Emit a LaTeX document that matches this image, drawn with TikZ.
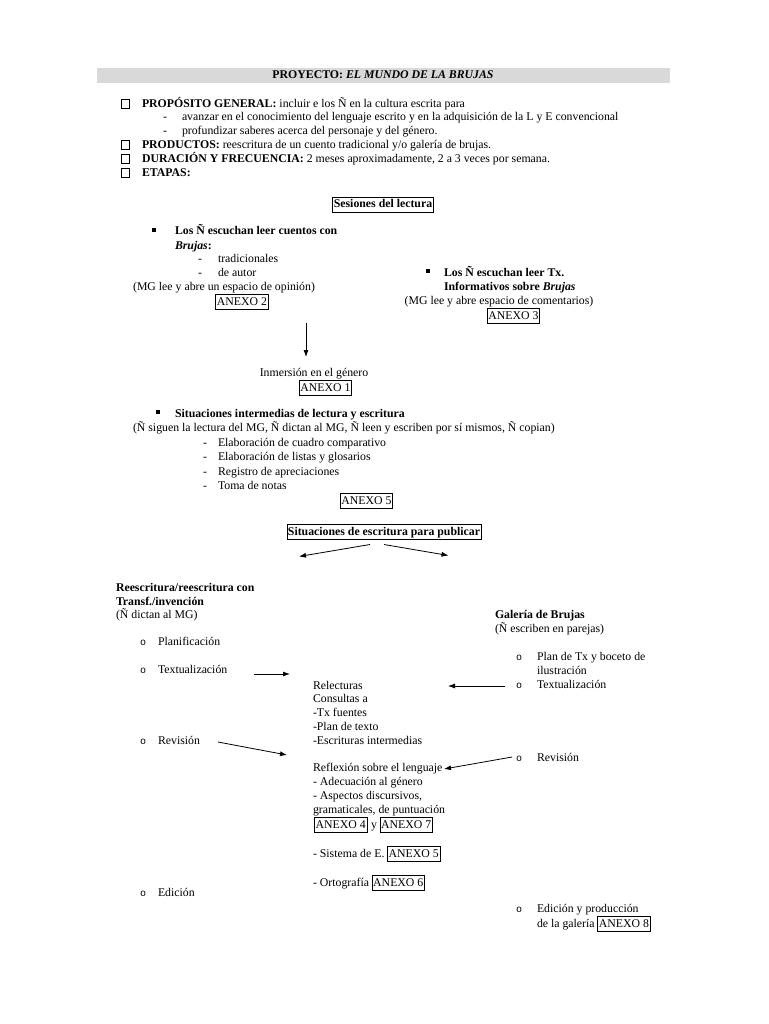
\documentclass[tikz,border=0pt]{standalone}
\usepackage{fontspec}
\setmainfont{Liberation Serif}
\newfontfamily\monofnt{Liberation Mono}
\usetikzlibrary{arrows.meta}
\definecolor{barGray}{RGB}{217,217,217}
\begin{document}
\begin{tikzpicture}[x=1pt,y=-1pt,
  every node/.style={inner sep=0pt,outer sep=0pt,font=\fontsize{11.8}{14}\selectfont},
  tx/.style={anchor=base west},
  tc/.style={anchor=base},
  anexo/.style={draw,line width=0.9pt,inner xsep=1.2pt,text height=8.4pt,text depth=2.6pt,inner ysep=2pt},
  hbox/.style={draw,line width=0.9pt,inner xsep=1pt,text height=8.4pt,text depth=2.6pt,inner ysep=2pt},
  cbox/.style={draw,line width=0.8pt,minimum width=8.5pt,minimum height=8.5pt},
  sqb/.style={fill=black,minimum width=3.6pt,minimum height=3.6pt},
  circ/.style={anchor=base,font=\monofnt\fontsize{10}{10}\selectfont},
  arr/.style={line width=0.8pt,-{Latex[length=7pt,width=5pt]}},
]
\useasboundingbox (0,0) rectangle (768,1024);
\fill[white] (0,0) rectangle (768,1024);
% title bar
\fill[barGray] (97,68) rectangle (670,83);
\node[tc] (title) at (383,79) {\textbf{PROYECTO: \textit{EL MUNDO DE LA BRUJAS}}};
% general items
\node[cbox] (cb1) at (125.5,104) {};
\node[tx] (prop) at (142,108) {\textbf{PROPÓSITO GENERAL:} incluir e los Ñ en la cultura escrita para};
\node[tx] (d1) at (163,121) {-};
\node[tx] (av) at (182,121) {avanzar en el conocimiento del lenguaje escrito y en la adquisición de la L y E convencional};
\node[tx] (d2) at (163,135) {-};
\node[tx] (pro) at (182,135) {profundizar saberes acerca del personaje y del género.};
\node[cbox] (cb2) at (125.5,145) {};
\node[tx] (prod) at (142,149) {\textbf{PRODUCTOS:} reescritura de un cuento tradicional y/o galería de brujas.};
\node[cbox] (cb3) at (125.5,159) {};
\node[tx] (dur) at (142,163) {\textbf{DURACIÓN Y FRECUENCIA:} 2 meses aproximadamente, 2 a 3 veces por semana.};
\node[cbox] (cb4) at (125.5,173) {};
\node[tx] (eta) at (142,177) {\textbf{ETAPAS:}};
% sesiones
\node[tc,hbox] (ses) at (383,208) {\textbf{Sesiones del lectura}};
\node[sqb] (b1) at (154,230) {};
\node[tx] (lc1) at (175,235) {\textbf{Los Ñ escuchan leer cuentos con}};
\node[tx] (lc2) at (175,249) {\textbf{\textit{Brujas}:}};
\node[tx] (d3) at (198,262) {-};
\node[tx] (tra) at (218,262) {tradicionales};
\node[tx] (d4) at (198,276) {-};
\node[tx] (aut) at (218,276) {de autor};
\node[tc] (mg1) at (224,290) {(MG lee y abre un espacio de opinión)};
\node[anexo,tc] (an2) at (242,305) {ANEXO 2};
\node[sqb] (b2) at (428,271) {};
\node[tx] (tx1) at (444,276) {\textbf{Los Ñ escuchan leer Tx.}};
\node[tx] (tx2) at (444,290) {\textbf{Informativos sobre \textit{Brujas}}};
\node[tc] (mg2) at (499,304) {(MG lee y abre espacio de comentarios)};
\node[anexo,tc] (an3) at (513.5,319) {ANEXO 3};
% inmersion
\coordinate (dA) at (306,323);
\coordinate (dB) at (306,357);
\draw[arr] (dA) -- (dB);
\node[tc] (inm) at (314,376) {Inmersión en el género};
\node[anexo,tc] (an1) at (325.5,391) {ANEXO 1};
% situaciones intermedias
\node[sqb] (b3) at (158,412) {};
\node[tx] (sit) at (175,417) {\textbf{Situaciones intermedias de lectura y escritura}};
\node[tx] (sig) at (133,431) {(Ñ siguen la lectura del MG, Ñ dictan al MG, Ñ leen y escriben por sí mismos, Ñ copian)};
\node[tx] (d5) at (203,446) {-};
\node[tx] (e1) at (218,446) {Elaboración de cuadro comparativo};
\node[tx] (d6) at (203,460) {-};
\node[tx] (e2) at (218,460) {Elaboración de listas y glosarios};
\node[tx] (d7) at (203,475) {-};
\node[tx] (e3) at (218,475) {Registro de apreciaciones};
\node[tx] (d8) at (203,489) {-};
\node[tx] (e4) at (218,489) {Toma de notas};
\node[anexo,tc] (an5) at (366.5,504) {ANEXO 5};
% publicar
\node[tc,hbox] (pub) at (384,535) {\textbf{Situaciones de escritura para publicar}};
\coordinate (sL0) at (370,544.5);
\coordinate (sL1) at (299,556.5);
\coordinate (sR0) at (384,544.5);
\coordinate (sR1) at (448.5,555.5);
\draw[arr] (sL0) -- (sL1);
\draw[arr] (sR0) -- (sR1);
% left column
\node[tx] (re1) at (116,591) {\textbf{Reescritura/reescritura con}};
\node[tx] (re2) at (116,605) {\textbf{Transf./invención}};
\node[tx] (re3) at (116,618) {(Ñ dictan al MG)};
\node[circ] (o1) at (143,645) {o};
\node[tx] (pl) at (158,645) {Planificación};
\node[circ] (o2) at (143,673) {o};
\node[tx] (tl) at (158,673) {Textualización};
\node[circ] (o3) at (143,744) {o};
\node[tx] (rl) at (158,744) {Revisión};
\node[circ] (o4) at (143,896) {o};
\node[tx] (el) at (158,896) {Edición};
% right column
\node[tx] (ga1) at (495,618) {\textbf{Galería de Brujas}};
\node[tx] (ga2) at (495,632) {(Ñ escriben en parejas)};
\node[circ] (o5) at (519,660) {o};
\node[tx] (pt1) at (537,660) {Plan de Tx y boceto de};
\node[tx] (pt2) at (537,674) {ilustración};
\node[circ] (o6) at (519,688) {o};
\node[tx] (tr) at (537,688) {Textualización};
\node[circ] (o7) at (519,761) {o};
\node[tx] (rr) at (537,761) {Revisión};
\node[circ] (o8) at (519,912) {o};
\node[tx] (ed1) at (537,912) {Edición y producción};
\node[tx] (ed2) at (537,927) {de la galería};
\node[anexo,anchor=base west] (an8) at ([xshift=3pt]ed2.base east) {ANEXO 8};
% center column
\node[tx] (rel) at (313,689) {Relecturas};
\node[tx] (con) at (313,702) {Consultas a};
\node[tx] (txf) at (313,716) {-Tx fuentes};
\node[tx] (pla) at (313,730) {-Plan de texto};
\node[tx] (esc) at (313,744) {-Escrituras intermedias};
\node[tx] (refl) at (313,771) {Reflexión sobre el lenguaje};
\node[tx] (ade) at (313,785) {- Adecuación al género};
\node[tx] (asp) at (313,799) {- Aspectos discursivos,};
\node[tx] (gra) at (313,813) {gramaticales, de puntuación};
\node[anexo,anchor=base west] (an4) at (314.5,828) {ANEXO 4};
\node[tx] (yy) at ([xshift=4pt]an4.base east) {y};
\node[anexo,anchor=base west] (an7) at ([xshift=3pt]yy.base east) {ANEXO 7};
\node[tx] (sis) at (313,857) {- Sistema de E.};
\node[anexo,anchor=base west] (an5b) at ([xshift=3pt]sis.base east) {ANEXO 5};
\node[tx] (ort) at (313,886) {- Ortografía};
\node[anexo,anchor=base west] (an6) at ([xshift=3pt]ort.base east) {ANEXO 6};
% side arrows
\coordinate (tl0) at (254,674);
\coordinate (tl1) at (290,674);
\draw[arr] (tl0) -- (tl1);
\coordinate (rl0) at (218,742);
\coordinate (rl1) at (287,755);
\draw[arr] (rl0) -- (rl1);
\coordinate (tr0) at (505,686);
\coordinate (tr1) at (448,686);
\draw[arr] (tr0) -- (tr1);
\coordinate (rr0) at (512,757);
\coordinate (rr1) at (444,769);
\draw[arr] (rr0) -- (rr1);
\end{tikzpicture}
\end{document}
